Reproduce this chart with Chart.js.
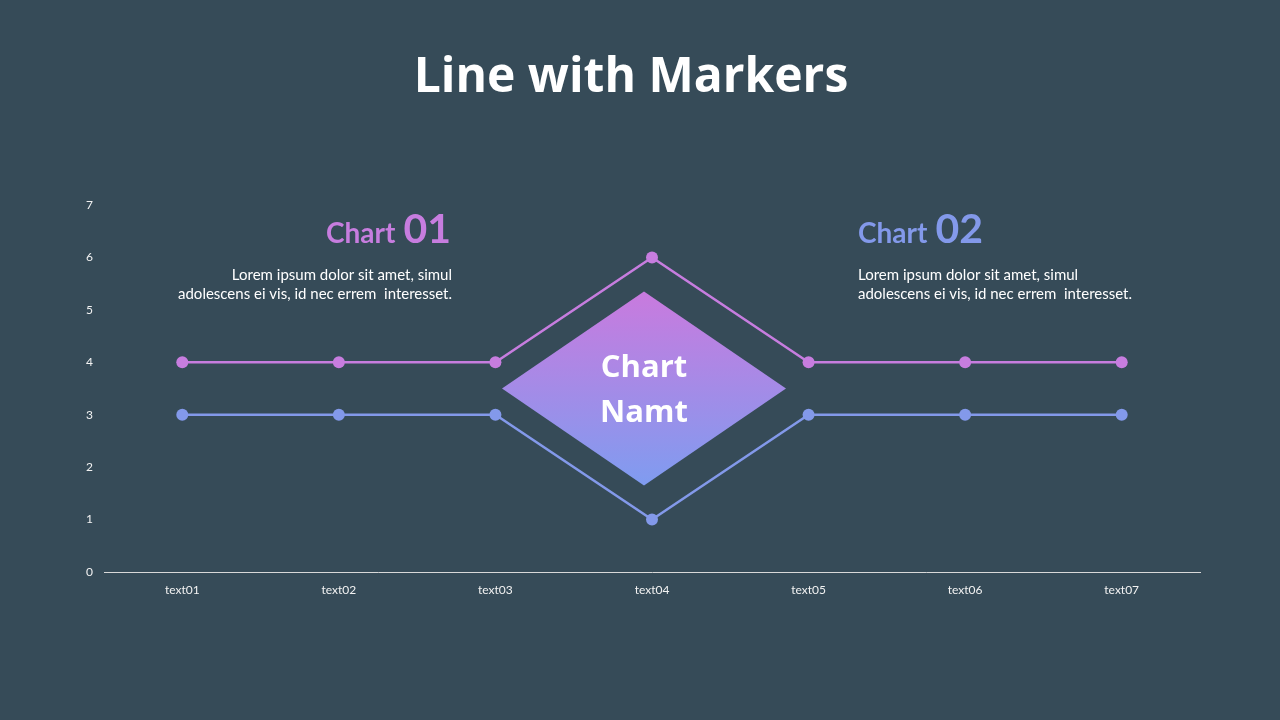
<!DOCTYPE html>
<html>
<head>
<meta charset="utf-8">
<script src="https://cdn.jsdelivr.net/npm/chart.js@4/dist/chart.umd.min.js"></script>
<style>
  html, body { margin: 0; padding: 0; background: #364b58; }
  #wrap { width: 1280px; height: 720px; position: relative; }
</style>
</head>
<body>
<div id="wrap"><canvas id="lineChart" width="1280" height="720"></canvas></div>
<script>
const categories = ['text01', 'text02', 'text03', 'text04', 'text05', 'text06', 'text07'];
const chart01Values = [4, 4, 4, 6, 4, 4, 4];
const chart02Values = [3, 3, 3, 1, 3, 3, 3];
const yTicks = [0, 1, 2, 3, 4, 5, 6, 7];

const purple = '#c77ddf';
const blue = '#8399ea';
const lorem = ['Lorem ipsum dolor sit amet, simul', 'adolescens ei vis, id nec errem  interesset.'];

// diamond + headings drawn on the canvas
const decorPlugin = {
    id: 'decor',
    beforeDatasetsDraw(chart) {
        const ctx = chart.ctx;
        const x = chart.scales.x;
        const y = chart.scales.y;
        const cx = x.getPixelForValue(3) - 8;
        const cy = y.getPixelForValue(3.5);
        const hw = 142, hh = 97;
        const grad = ctx.createLinearGradient(0, cy - hh, 0, cy + hh);
        grad.addColorStop(0, '#c97ade');
        grad.addColorStop(1, '#7f9cf0');
        ctx.save();
        ctx.beginPath();
        ctx.moveTo(cx, cy - hh);
        ctx.lineTo(cx + hw, cy);
        ctx.lineTo(cx, cy + hh);
        ctx.lineTo(cx - hw, cy);
        ctx.closePath();
        ctx.fillStyle = grad;
        ctx.fill();

        ctx.fillStyle = '#ffffff';
        ctx.textAlign = 'center';
        ctx.textBaseline = 'alphabetic';
        ctx.font = 'bold 31px "Open Sans"';
        ctx.fillText('Chart', cx, cy - 12);
        ctx.fillText('Namt', cx, cy + 33);
        ctx.restore();
    },
    afterDraw(chart) {
        const ctx = chart.ctx;
        ctx.save();
        ctx.fillStyle = '#ffffff';
        ctx.textAlign = 'center';
        ctx.font = 'bold 48px "Open Sans"';
        ctx.fillText('Line with Markers', 631, 92);

        // Chart 01 (right aligned)
        ctx.textAlign = 'right';
        ctx.font = 'bold 41px Lato';
        ctx.fillStyle = purple;
        const w01 = ctx.measureText('01').width;
        ctx.fillText('01', 451, 243);
        ctx.font = 'bold 28px Lato';
        ctx.fillText('Chart', 451 - w01 - 8, 243);
        ctx.fillStyle = '#ffffff';
        ctx.font = '15px Lato';
        ctx.fillText(lorem[0], 452, 280);
        ctx.fillText(lorem[1], 452, 299);

        // Chart 02 (left aligned)
        ctx.textAlign = 'left';
        ctx.font = 'bold 28px Lato';
        ctx.fillStyle = blue;
        const wc = ctx.measureText('Chart').width;
        ctx.fillText('Chart', 858, 243);
        ctx.font = 'bold 41px Lato';
        ctx.fillText('02', 858 + wc + 8, 243);
        ctx.fillStyle = '#ffffff';
        ctx.font = '15px Lato';
        ctx.fillText(lorem[0], 858, 280);
        ctx.fillText(lorem[1], 858, 299);
        ctx.restore();
    }
};

const ctx = document.getElementById('lineChart').getContext('2d');
new Chart(ctx, {
    type: 'line',
    data: {
        labels: categories,
        datasets: [
            {
                label: 'Chart 01',
                data: chart01Values,
                borderColor: purple,
                backgroundColor: purple,
                borderWidth: 2.5,
                pointRadius: 6,
                pointBorderWidth: 0,
                tension: 0,
                fill: false
            },
            {
                label: 'Chart 02',
                data: chart02Values,
                borderColor: blue,
                backgroundColor: blue,
                borderWidth: 2.5,
                pointRadius: 6,
                pointBorderWidth: 0,
                tension: 0,
                fill: false
            }
        ]
    },
    options: {
        responsive: false,
        animation: false,
        events: [],
        layout: { padding: { top: 205, left: 80, right: 80, bottom: 0 } },
        plugins: {
            legend: { display: false },
            tooltip: { enabled: false }
        },
        scales: {
            x: {
                offset: true,
                grid: { display: false, drawTicks: false },
                border: { display: true, color: '#d9d9d9', width: 1 },
                ticks: { color: '#f2f2f2', font: { family: 'Lato', size: 12 }, padding: 11 },
                afterFit(scale) { scale.height = 148; }
            },
            y: {
                min: 0,
                max: 7,
                afterBuildTicks(scale) { scale.ticks = yTicks.map(v => ({ value: v })); },
                grid: { display: false, drawTicks: false },
                border: { display: false },
                ticks: { color: '#f2f2f2', font: { family: 'Lato', size: 12 }, padding: 11 },
                afterFit(scale) { scale.width = 24; }
            }
        }
    },
    plugins: [decorPlugin]
});
</script>
</body>
</html>
